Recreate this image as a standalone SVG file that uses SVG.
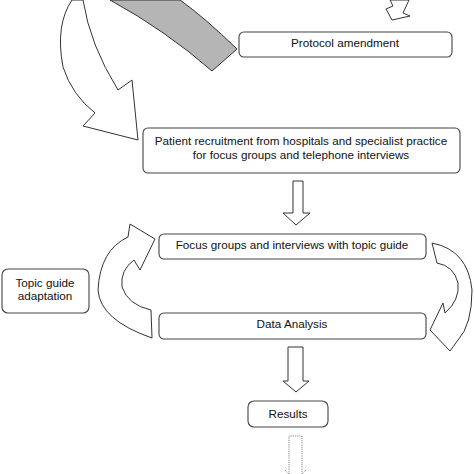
<svg xmlns="http://www.w3.org/2000/svg" width="474" height="474" viewBox="0 0 474 474">
<style>
.box{fill:#fff;stroke:#444;stroke-width:1.1}
.t{font-family:"Liberation Sans",Arial,sans-serif;font-size:11.7px;fill:#111;text-anchor:middle}
.arr{fill:#fff;stroke:#333;stroke-width:1}
.gray{fill:#b5b5b5;stroke:#333;stroke-width:1}
.dot{fill:none;stroke:#888;stroke-width:1;stroke-dasharray:1.2 1}
</style>
<rect width="474" height="474" fill="#fff"/>
<g id="connectors">
<path class="gray" d="M110,0 Q165,30 212,71 L237,49 Q205,18 180,0 Z"/>
<path class="arr" d="M72,0 Q55,25 63,67 Q72,95 95,113 L83,126 L138,140 L132,80 L118,90 Q90,45 83,0 Z"/>
<path class="arr" d="M390,0 L393,6 L386,9 L392,20 L410,16 L403,13 L409,0 Z"/>
<path class="arr" d="M293,181 L303,181 L303,213 L310,213 L296,225 L283,213 L293,213 Z"/>
<path class="arr" d="M152,338 Q100,320 98,290 Q100,250 128,237 L130,224 L155,239 L140,270 L134,260 Q120,270 122,287 Q128,305 151,310 Z"/>
<path class="arr" d="M432,243 Q468,250 472,290 Q472,325 458,340 L450,351 L430,330 L443,303 L445,313 Q460,300 458,283 Q454,266 437,263 Z"/>
<path class="arr" d="M288,347 L303,347 L303,381 L309,381 L296,392 L283,381 L288,381 Z"/>
<path class="dot" d="M289,474 L289,436 L302,436 L302,474 M285,470 L289,474 M306,470 L302,474"/>
</g>
<g id="protocol">
<rect class="box" x="239" y="32" width="213" height="25" rx="5"/>
<text class="t" x="345" y="47">Protocol amendment</text>
</g>
<g id="recruitment">
<rect class="box" x="143" y="128" width="317" height="45" rx="5"/>
<text class="t" x="301" y="145">Patient recruitment from hospitals and specialist practice</text>
<text class="t" x="301" y="159">for focus groups and telephone interviews</text>
</g>
<g id="focus">
<rect class="box" x="159" y="234" width="267" height="25" rx="5"/>
<text class="t" x="292" y="249">Focus groups and interviews with topic guide</text>
</g>
<g id="topic">
<rect class="box" x="2" y="269" width="87" height="44" rx="6"/>
<text class="t" x="45" y="287">Topic guide</text>
<text class="t" x="45" y="300">adaptation</text>
</g>
<g id="analysis">
<rect class="box" x="159" y="313" width="267" height="26" rx="5"/>
<text class="t" x="292" y="328">Data Analysis</text>
</g>
<g id="results">
<rect class="box" x="248" y="401" width="80" height="26" rx="6"/>
<text class="t" x="288" y="418">Results</text>
</g>
</svg>
